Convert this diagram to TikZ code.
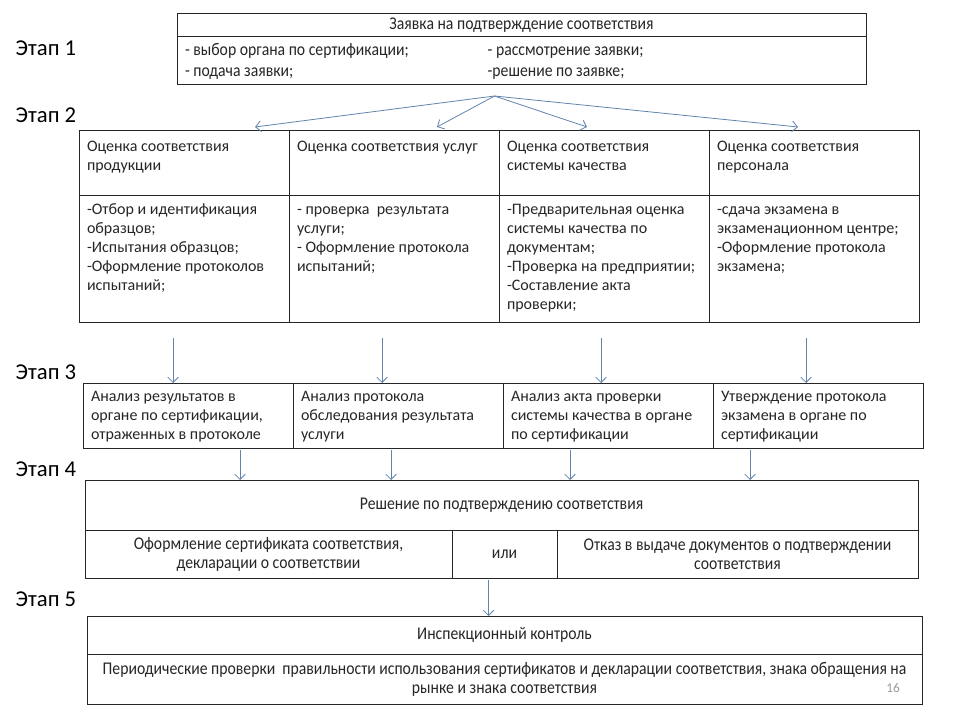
\documentclass[tikz,border=0pt]{standalone}
\usepackage{fontspec}
\setmainfont{Carlito}
\newfontfamily\narrowfont[FakeStretch=0.88]{Carlito}
\usetikzlibrary{arrows.meta,calc,positioning}
\definecolor{arrowblue}{RGB}{96,132,172}

\begin{document}
\begin{tikzpicture}[x=.75pt,y=-.75pt,>={Straight Barb[length=4pt,width=8pt]},
  font=\fontsize{12}{14.25}\selectfont,text=black!85]
\tikzset{cell/.style={draw=black!85,line width=.75pt,outer sep=0pt,inner ysep=0pt,inner xsep=6pt,align=flush left,text width=145.5pt},
 head/.style={cell,text height=15.75pt,text depth=33pt},
 body/.style={cell,text height=14.25pt,text depth=80.25pt},
 res/.style={cell,text height=13.5pt,text depth=35.25pt},
 wide/.style={draw=black!85,line width=.75pt,outer sep=0pt,inner sep=0pt,align=flush center,font=\narrowfont\fontsize{13.4}{14.25}\selectfont},
 stage/.style={anchor=west,text=black,font=\fontsize{17}{19}\selectfont},
 arr/.style={->,draw=arrowblue,line width=.6pt}}
\useasboundingbox (0,0) rectangle (960,720);

% stage labels
\node[stage] (s1) at (11,48){Этап 1};
\node[stage] (s2) at (11,115){Этап 2};
\node[stage] (s3) at (11,372){Этап 3};
\node[stage] (s4) at (11,469){Этап 4};
\node[stage] (s5) at (11,599){Этап 5};

% stage 1
\node[wide,anchor=north west,minimum width=516.75pt,minimum height=17.25pt] (z) at (177,14){Заявка на подтверждение соответствия};
\node[wide,anchor=north west,minimum width=516.75pt,minimum height=36pt,align=flush left,inner xsep=6pt,text width=504.75pt,
  font=\narrowfont\fontsize{13.4}{15.75}\selectfont] (zb) at (z.south west)
  {\makebox[227pt][l]{- выбор органа по сертификации;}- рассмотрение заявки;\\
   \makebox[227pt][l]{- подача заявки;}-решение по заявке;};

% stage 2
\node[head,anchor=north west] (p1) at (79,131){Оценка соответствия\\продукции};
\node[head,right=0pt of p1] (p2){Оценка соответствия услуг};
\node[head,right=0pt of p2] (p3){Оценка соответствия\\системы качества};
\node[head,right=0pt of p3] (p4){Оценка соответствия\\персонала};
\node[body,below=0pt of p1] (q1){-Отбор и идентификация\\образцов;\\-Испытания образцов;\\-Оформление протоколов\\испытаний;};
\node[body,below=0pt of p2] (q2){- проверка\ \ результата\\услуги;\\- Оформление протокола\\испытаний;};
\node[body,below=0pt of p3] (q3){-Предварительная оценка\\системы качества по\\документам;\\-Проверка на предприятии;\\-Составление акта\\проверки;};
\node[body,below=0pt of p4] (q4){-сдача экзамена в\\экзаменационном центре;\\-Оформление протокола\\экзамена;};

% stage 3
\node[res,anchor=north west] (r1) at (83,383){Анализ результатов в\\органе по сертификации,\\отраженных в протоколе};
\node[res,right=0pt of r1] (r2){Анализ протокола\\обследования результата\\услуги};
\node[res,right=0pt of r2] (r3){Анализ акта проверки\\системы качества в органе\\по сертификации};
\node[res,right=0pt of r3] (r4){Утверждение протокола\\экзамена в органе по\\сертификации};

% stage 4
\node[wide,anchor=north west,minimum width=624.75pt,minimum height=37.5pt] (d) at (85,480){Решение по подтверждению соответствия};
\node[wide,anchor=north west,minimum width=275.25pt,minimum height=36pt] (e1) at (d.south west){Оформление сертификата соответствия,\\декларации о соответствии};
\node[wide,right=0pt of e1,minimum width=78.75pt,minimum height=36pt] (e2){или};
\node[wide,right=0pt of e2,minimum width=270.75pt,minimum height=36pt] (e3){Отказ в выдаче документов о подтверждении\\соответствия};

% stage 5
\node[wide,anchor=north west,minimum width=626.25pt,minimum height=28.5pt] (i) at (87,616){Инспекционный контроль};
\node[wide,anchor=north west,minimum width=626.25pt,minimum height=37.5pt] (j) at (i.south west){Периодические проверки\ \ правильности использования сертификатов и декларации соответствия, знака обращения на\\рынке и знака соответствия};
\node[text=black!40,font=\fontsize{10}{12}\selectfont] (pg) at (893,688){16};

% arrows
\coordinate (apex) at ($(zb.south)+(-27,11)$);
\draw[arr] (apex) -- ($(p1.north)+(71,-4)$);
\draw[arr] (apex) -- ($(p2.north)+(43,-4)$);
\draw[arr] (apex) -- ($(p3.north)+(-17,-4)$);
\draw[arr] (apex) -- ($(p4.north)+(-16,-4)$);
\foreach \a/\b/\dx in {q1/r1/-11,q2/r2/-12,q3/r3/-3,q4/r4/-8}
  {\draw[arr] ($(\a.south)+(\dx,16)$) coordinate (t) -- (t |- \b.north);}
\foreach \a/\dx in {r1/52,r2/-7,r3/-38,r4/-68}
  {\draw[arr] ($(\a.south)+(\dx,2)$) coordinate (t) -- (t |- d.north);}
\draw[arr] ($(e2.south)+(-16,2)$) coordinate (t) -- (t |- i.north);
\end{tikzpicture}
\end{document}
